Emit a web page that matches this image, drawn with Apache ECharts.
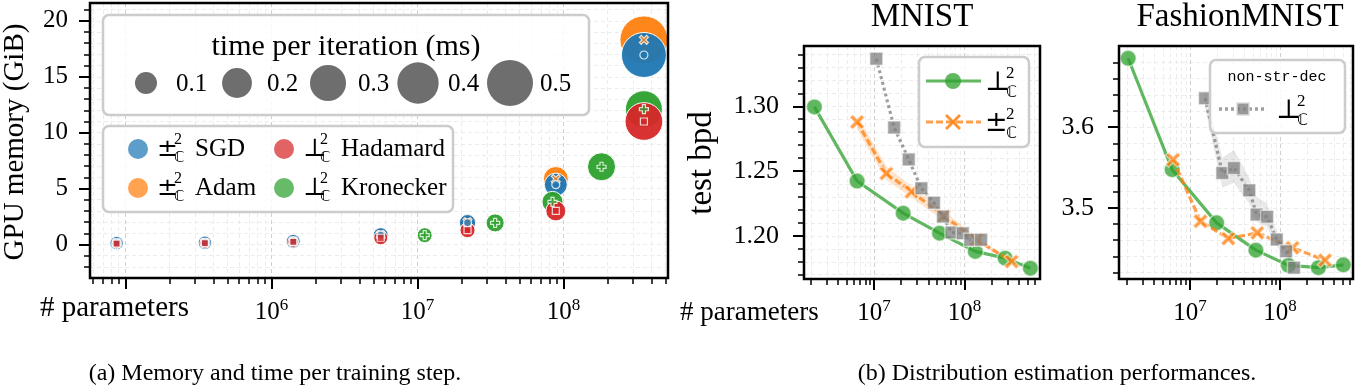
<!DOCTYPE html>
<html>
<head>
<meta charset="utf-8">
<script src="https://cdn.jsdelivr.net/npm/echarts@6/dist/echarts.min.js"></script>
<style>
  html, body { margin: 0; padding: 0; background: #fff; }
  #container { width: 1360px; height: 389px; }
</style>
</head>
<body>
<div id="container"></div>
<script>
var dom = document.getElementById('container');
var myChart = echarts.init(dom, null, { renderer: 'canvas' });

// ---- (a) GPU memory (GiB) and time per iteration (ms) vs # parameters
var denseParams = [8.7e4, 3.5e5, 1.41e6, 5.6e6, 2.2e7, 8.85e7, 3.55e8];
var sgdMemory   = [0.12, 0.16, 0.28, 0.83, 1.95, 5.35, 16.95];
var sgdTime     = [0.025, 0.025, 0.028, 0.037, 0.046, 0.111, 0.478];
var adamMemory  = [0.12, 0.16, 0.28, 0.85, 2.0, 5.85, 18.3];
var adamTime    = [0.02, 0.02, 0.023, 0.033, 0.04, 0.135, 0.546];
var hadMemory   = [0.08, 0.12, 0.23, 0.6, 1.28, 3.0, 11.0];
var hadTime     = [0.006, 0.006, 0.009, 0.029, 0.037, 0.079, 0.33];
var kronParams  = [1.12e7, 3.4e7, 8.4e7, 1.82e8, 3.55e8];
var kronMemory  = [0.83, 1.93, 3.81, 6.95, 12.1];
var kronTime    = [0.036, 0.061, 0.09, 0.174, 0.317];
var timeLegend  = [0.1, 0.2, 0.3, 0.4, 0.5];

// ---- (b) test bpd vs # parameters
var mnistPerpParams  = [2.19e6, 6.5e6, 2.1e7, 5.3e7, 1.32e8, 2.82e8, 5.37e8];
var mnistPerpBpd     = [1.2995, 1.2423, 1.2175, 1.2021, 1.188, 1.1828, 1.175];
var mnistPmParams    = [6.5e6, 1.37e7, 2.6e7, 5.9e7, 1.36e8, 3.33e8];
var mnistPmBpd       = [1.2879, 1.2482, 1.2341, 1.2154, 1.197, 1.1802];
var mnistPmLow       = [1.282, 1.243, 1.2295, 1.2115, 1.1955, 1.1792];
var mnistPmHigh      = [1.293, 1.2535, 1.2385, 1.2195, 1.199, 1.1812];
var mnistNsdParams   = [1.06e7, 1.67e7, 2.42e7, 3.34e7, 4.6e7, 5.8e7, 7.2e7, 9.6e7, 1.16e8, 1.53e8];
var mnistNsdBpd      = [1.3367, 1.2836, 1.259, 1.2367, 1.2256, 1.2149, 1.2026, 1.202, 1.197, 1.197];

var fashionPerpParams = [2.06e6, 6.35e6, 1.98e7, 5.4e7, 1.24e8, 2.67e8, 5.05e8];
var fashionPerpBpd    = [3.6852, 3.5473, 3.4815, 3.4477, 3.4289, 3.426, 3.4295];
var fashionPmParams   = [6.5e6, 1.31e7, 2.67e7, 5.6e7, 1.38e8, 3.16e8];
var fashionPmBpd      = [3.5596, 3.4835, 3.4621, 3.4691, 3.4506, 3.4353];
var fashionNsdParams  = [1.47e7, 2.29e7, 3.08e7, 4.56e7, 5.5e7, 7.2e7, 9.2e7, 1.17e8, 1.43e8];
var fashionNsdBpd     = [3.6358, 3.5432, 3.5494, 3.5217, 3.4917, 3.4889, 3.4609, 3.4465, 3.426];
var fashionNsdLow     = [3.625, 3.525, 3.531, 3.505, 3.483, 3.476, 3.452, 3.44, 3.421];
var fashionNsdHigh    = [3.646, 3.562, 3.572, 3.537, 3.514, 3.505, 3.47, 3.453, 3.431];

// tick values
var aMemTicks = [0, 5, 10, 15, 20];
var mnistTicks = [1.20, 1.25, 1.30];
var fashionTicks = [3.5, 3.6];

var serif = '"Liberation Serif", "DejaVu Serif", serif';
var C = { blue: '#1f77b4', orange: '#ff7f0e', red: '#d62728', green: '#2ca02c', gray: '#7f7f7f' };
var X_PATH = 'path://M0,2 L2,0 L5,3 L8,0 L10,2 L7,5 L10,8 L8,10 L5,7 L2,10 L0,8 L3,5 Z';
var P_PATH = 'path://M3.3,0 H6.7 V3.3 H10 V6.7 H6.7 V10 H3.3 V6.7 H0 V3.3 H3.3 Z';

function bubbleSize(t) { return Math.sqrt(76 + 4080 * t); }

function range(a, b, step) {
    var out = [];
    for (var v = a; v <= b + 1e-9; v += step) out.push(+v.toFixed(4));
    return out;
}
function logMinors(lo, hi) {
    var out = [];
    for (var e = 4; e <= 9; e++) for (var k = 2; k <= 9; k++) {
        var v = k * Math.pow(10, e);
        if (v > lo && v < hi) out.push(v);
    }
    return out;
}

var tickStyle = { color: '#000', width: 2 };
var majorGrid = { show: true, lineStyle: { color: '#d0d0d0', type: [4, 3], width: 1 } };
var minorGrid = { show: true, lineStyle: { color: '#ececec', type: [4, 3], width: 1 } };

function xPair(grid, min, max, majors, labels, fs) {
    return [{
        type: 'log', gridIndex: grid, min: min, max: max, position: 'bottom',
        axisLine: { show: false, onZero: false },
        axisTick: { show: true, length: 11, lineStyle: tickStyle, customValues: majors },
        axisLabel: {
            customValues: labels, margin: 19,
            formatter: function (v) { return '{b|10}{s|' + Math.round(Math.log10(v)) + '}'; },
            rich: {
                b: { fontFamily: serif, fontSize: fs, color: '#000', lineHeight: fs + 6 },
                s: { fontFamily: serif, fontSize: Math.round(fs * 0.68), color: '#000', verticalAlign: 'top' }
            }
        },
        splitLine: majorGrid
    }, {
        type: 'log', gridIndex: grid, min: min, max: max, position: 'bottom',
        axisLine: { show: false, onZero: false },
        axisTick: { show: true, length: 6, lineStyle: { color: '#000', width: 1.5 }, customValues: logMinors(min, max) },
        axisLabel: { show: false },
        splitLine: minorGrid
    }];
}
function yPair(grid, min, max, majors, minors, fs, digits, margin) {
    return [{
        type: 'value', gridIndex: grid, min: min, max: max, position: 'left',
        axisLine: { show: false, onZero: false },
        axisTick: { show: true, length: 11, lineStyle: tickStyle, customValues: majors },
        axisLabel: {
            customValues: majors, margin: margin, color: '#000', fontFamily: serif, fontSize: fs,
            formatter: function (v) { return v.toFixed(digits); }
        },
        splitLine: majorGrid
    }, {
        type: 'value', gridIndex: grid, min: min, max: max, position: 'left',
        axisLine: { show: false, onZero: false },
        axisTick: { show: true, length: 6, lineStyle: { color: '#000', width: 1.5 }, customValues: minors },
        axisLabel: { show: false },
        splitLine: minorGrid
    }];
}

var xAxes = [].concat(
    xPair(0, 5.72e4, 5.19e8, [1e5, 1e6, 1e7, 1e8], [1e6, 1e7, 1e8], 25),
    xPair(1, 1.68e6, 6.86e8, [1e7, 1e8], [1e7, 1e8], 25),
    xPair(2, 1.63e6, 6.47e8, [1e7, 1e8], [1e7, 1e8], 25)
);
var yAxes = [].concat(
    yPair(0, -3, 21.6, aMemTicks, range(-2, 21, 1), 25, 0, 22),
    yPair(1, 1.1667, 1.3465, mnistTicks, range(1.17, 1.34, 0.01), 26, 2, 25),
    yPair(2, 3.412, 3.7004, fashionTicks, range(3.42, 3.68, 0.02), 26, 1, 25)
);

function bubbles(params, mem, time, color, z) {
    return {
        type: 'scatter', xAxisIndex: 0, yAxisIndex: 0, z: z, silent: true,
        data: params.map(function (p, i) { return [p, mem[i], time[i]]; }),
        symbolSize: function (d) { return bubbleSize(d[2]); },
        itemStyle: { color: color, opacity: 0.95, borderColor: '#fff', borderWidth: 1 }
    };
}
function styleMarks(params, mem, symbol, size, color) {
    return {
        type: 'scatter', xAxisIndex: 0, yAxisIndex: 0, z: 10, silent: true,
        data: params.map(function (p, i) { return [p, mem[i]]; }),
        symbol: symbol, symbolSize: size,
        itemStyle: { color: color, borderColor: '#fff', borderWidth: 1.2 }
    };
}
function curve(ax, params, bpd, color, dash, symbol, size, z) {
    return {
        type: 'line', xAxisIndex: ax, yAxisIndex: ax, z: z, silent: true,
        data: params.map(function (p, i) { return [p, bpd[i]]; }),
        symbol: symbol, symbolSize: size, showSymbol: true,
        lineStyle: { color: color, width: 3.2, type: dash, opacity: 0.75 },
        itemStyle: { color: color, opacity: 0.75, borderColor: 'rgba(255,255,255,0.7)', borderWidth: 1.5 }
    };
}
function band(ax, params, lo, hi, fill) {
    return {
        type: 'custom', xAxisIndex: ax, yAxisIndex: ax, z: 1, silent: true,
        data: [[params[0], lo[0]]],
        renderItem: function (p, api) {
            var pts = [];
            for (var i = 0; i < params.length; i++) pts.push(api.coord([params[i], hi[i]]));
            for (var j = params.length - 1; j >= 0; j--) pts.push(api.coord([params[j], lo[j]]));
            return { type: 'polygon', shape: { points: pts }, style: { fill: fill } };
        }
    };
}

// ---- graphic helpers (legends, labels)
function txt(x, y, s, size, opts) {
    opts = opts || {};
    return {
        type: 'text', x: x, y: y, rotation: opts.rot || 0, z: 120, silent: true,
        style: {
            text: s, fill: '#000', font: size + 'px ' + (opts.family || serif),
            align: opts.align || 'left', verticalAlign: 'middle'
        }
    };
}
function mathSym(x, y, sym, size, supX) {
    return [
        txt(x, y, sym, size, { family: '"DejaVu Serif", serif' }),
        txt(supX, y - size * 0.36, '2', Math.round(size * 0.62), { family: serif }),
        txt(supX, y + size * 0.36, 'ℂ', Math.round(size * 0.6), { family: '"DejaVu Sans", sans-serif' })
    ];
}
function box(x, y, w, h) {
    return {
        type: 'rect', z: 110, silent: true, shape: { x: x, y: y, width: w, height: h, r: 6 },
        style: { fill: 'rgba(255,255,255,0.82)', stroke: '#cccccc', lineWidth: 2.5 }
    };
}
function dot(x, y, d, fill) {
    return { type: 'circle', z: 115, silent: true, shape: { cx: x, cy: y, r: d / 2 }, style: { fill: fill } };
}

var graphics = [];
// size legend
graphics.push(box(103, 15, 486, 100));
graphics.push(txt(346, 47, 'time per iteration (ms)', 30, { align: 'center' }));
var sizeX = [146, 237, 328, 418, 510];
timeLegend.forEach(function (t, i) {
    graphics.push(dot(sizeX[i], 83, bubbleSize(t), '#6e6e6e'));
    graphics.push(txt(sizeX[i] + 30, 84, t.toFixed(1), 25));
});
// colour legend
graphics.push(box(103, 126, 350, 86));
[
    { x: 138, y: 149, c: 'rgba(31,119,180,0.72)', s: '±', n: 'SGD' },
    { x: 284, y: 149, c: 'rgba(214,39,40,0.72)', s: '⊥', n: 'Hadamard' },
    { x: 138, y: 188, c: 'rgba(255,127,14,0.72)', s: '±', n: 'Adam' },
    { x: 284, y: 188, c: 'rgba(44,160,44,0.72)', s: '⊥', n: 'Kronecker' }
].forEach(function (e) {
    graphics.push(dot(e.x, e.y, 20, e.c));
    graphics = graphics.concat(mathSym(e.x + 19, e.y, e.s, 25, e.x + 36));
    graphics.push(txt(e.x + 57, e.y, e.n, 25));
});
// axis titles and captions
graphics.push(txt(15, 142, 'GPU memory (GiB)', 29, { align: 'center', rot: Math.PI / 2 }));
graphics.push(txt(40, 308, '# parameters', 29));
graphics.push(txt(275, 374, '(a) Memory and time per training step.', 24, { align: 'center' }));
graphics.push(txt(702, 163, 'test bpd', 33, { align: 'center', rot: Math.PI / 2 }));
graphics.push(txt(680, 313, '# parameters', 27));
graphics.push(txt(922, 17, 'MNIST', 33, { align: 'center' }));
graphics.push(txt(1240, 17, 'FashionMNIST', 33, { align: 'center' }));
graphics.push(txt(1057, 374, '(b) Distribution estimation performances.', 24, { align: 'center' }));
// MNIST legend
graphics.push(box(919, 57, 110, 90));
graphics.push({ type: 'line', z: 115, silent: true, shape: { x1: 926, y1: 81, x2: 981, y2: 81 },
    style: { stroke: 'rgba(44,160,44,0.75)', lineWidth: 3.2 } });
graphics.push(dot(953, 81, 16, 'rgba(44,160,44,0.75)'));
graphics = graphics.concat(mathSym(985, 83, '⊥', 27, 1006));
graphics.push({ type: 'line', z: 115, silent: true, shape: { x1: 926, y1: 122, x2: 981, y2: 122 },
    style: { stroke: 'rgba(255,127,14,0.75)', lineWidth: 3.2, lineDash: [7, 3] } });
graphics.push({ type: 'polygon', z: 116, silent: true,
    shape: { points: [[945, 116], [947, 114], [953, 120], [959, 114], [961, 116], [955, 122], [961, 128], [959, 130], [953, 124], [947, 130], [945, 128], [951, 122]] },
    style: { fill: 'rgba(255,127,14,0.85)' } });
graphics = graphics.concat(mathSym(985, 124, '±', 27, 1006));
// FashionMNIST legend
graphics.push(box(1210, 60, 135, 73));
graphics.push(txt(1277, 77, 'non-str-dec', 15, { align: 'center', family: '"Liberation Mono", "DejaVu Sans Mono", monospace' }));
graphics.push({ type: 'line', z: 115, silent: true, shape: { x1: 1219, y1: 109, x2: 1267, y2: 109 },
    style: { stroke: 'rgba(127,127,127,0.75)', lineWidth: 3.5, lineDash: [3, 3] } });
graphics.push({ type: 'rect', z: 116, silent: true, shape: { x: 1237, y: 103, width: 12, height: 12 },
    style: { fill: 'rgba(127,127,127,0.8)', stroke: 'rgba(220,220,220,0.9)', lineWidth: 1.5 } });
graphics = graphics.concat(mathSym(1276, 111, '⊥', 27, 1297));

var option = {
    backgroundColor: '#fff',
    animation: false,
    grid: [
        { left: 90, top: 3, width: 578, height: 275, show: true, borderColor: '#000', borderWidth: 2.5, z: 5 },
        { left: 804, top: 46, width: 236, height: 233, show: true, borderColor: '#000', borderWidth: 2.5, z: 5 },
        { left: 1119, top: 46, width: 234, height: 233, show: true, borderColor: '#000', borderWidth: 2.5, z: 5 }
    ],
    xAxis: xAxes,
    yAxis: yAxes,
    series: [
        bubbles(denseParams, adamMemory, adamTime, C.orange, 2),
        bubbles(denseParams, sgdMemory, sgdTime, C.blue, 3),
        bubbles(kronParams, kronMemory, kronTime, C.green, 4),
        bubbles(denseParams, hadMemory, hadTime, C.red, 5),
        styleMarks(denseParams, adamMemory, X_PATH, 9, C.orange),
        styleMarks(denseParams, sgdMemory, 'circle', 8, C.blue),
        styleMarks(kronParams, kronMemory, P_PATH, 9, C.green),
        styleMarks(denseParams, hadMemory, 'rect', 7, C.red),

        band(2, mnistPmParams, mnistPmLow, mnistPmHigh, 'rgba(255,127,14,0.22)'),
        curve(2, mnistPerpParams, mnistPerpBpd, C.green, 'solid', 'circle', 16, 3),
        curve(2, mnistPmParams, mnistPmBpd, C.orange, [7, 3], X_PATH, 15, 4),
        curve(2, mnistNsdParams, mnistNsdBpd, C.gray, [3, 3], 'rect', 13, 5),

        band(4, fashionNsdParams, fashionNsdLow, fashionNsdHigh, 'rgba(127,127,127,0.18)'),
        curve(4, fashionPerpParams, fashionPerpBpd, C.green, 'solid', 'circle', 16, 3),
        curve(4, fashionPmParams, fashionPmBpd, C.orange, [7, 3], X_PATH, 15, 4),
        curve(4, fashionNsdParams, fashionNsdBpd, C.gray, [3, 3], 'rect', 13, 5)
    ],
    graphic: { elements: graphics }
};

myChart.setOption(option);
window.addEventListener('resize', myChart.resize);
</script>
</body>
</html>
